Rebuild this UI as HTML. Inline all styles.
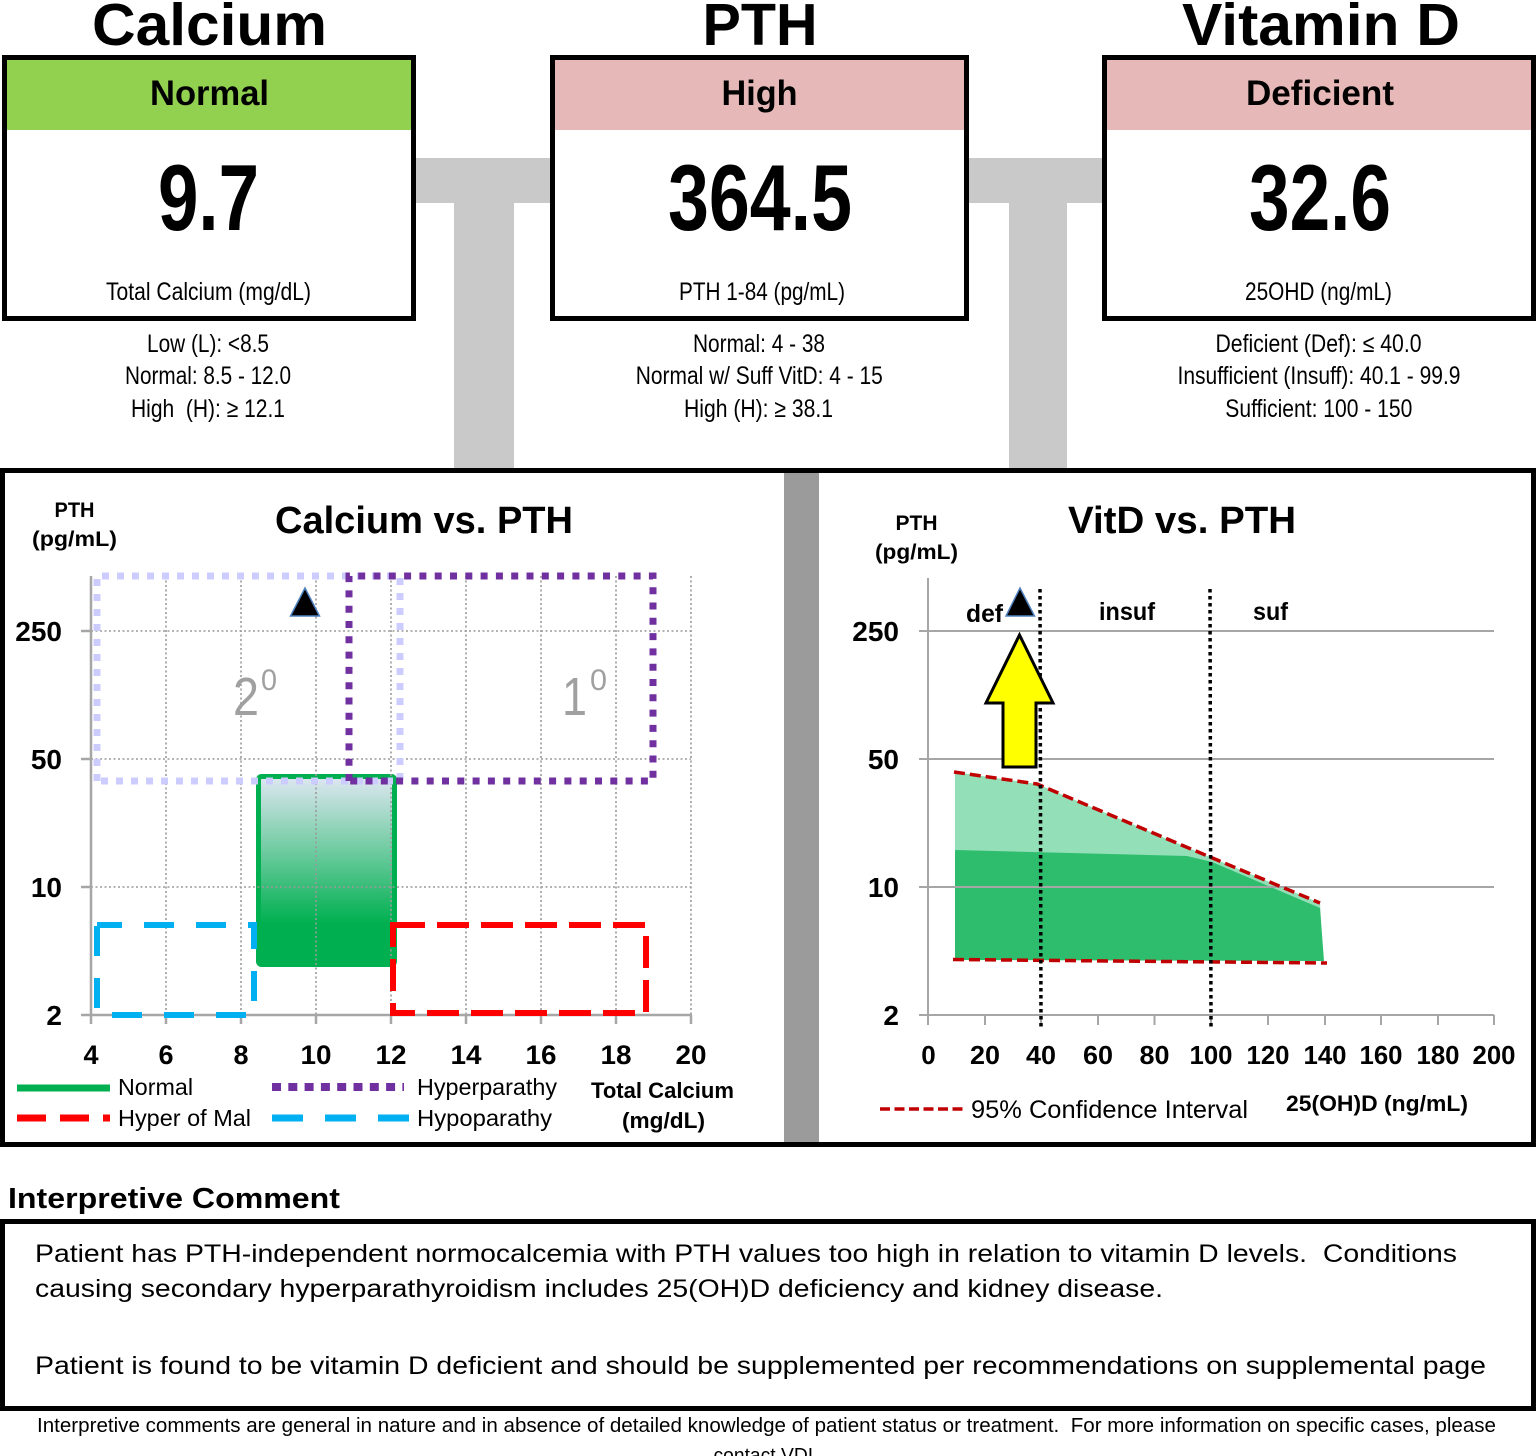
<!DOCTYPE html>
<html><head><meta charset="utf-8">
<style>html,body{margin:0;padding:0;background:#fff;}svg{display:block;}</style>
</head><body>
<svg width="1536" height="1456" viewBox="0 0 1536 1456" xmlns="http://www.w3.org/2000/svg" font-family="'Liberation Sans', Arial, sans-serif">
<defs>
<linearGradient id="gr" x1="0" y1="0" x2="0" y2="1">
<stop offset="0" stop-color="#dfe7f2"/>
<stop offset="0.78" stop-color="#00b050"/>
<stop offset="1" stop-color="#00b050"/>
</linearGradient>
</defs>
<rect width="1536" height="1456" fill="#fff"/>

<!-- gray connectors -->
<rect x="416" y="158" width="134" height="45" fill="#c9c9c9"/>
<rect x="454" y="203" width="60" height="266" fill="#c9c9c9"/>
<rect x="969" y="158" width="133" height="45" fill="#c9c9c9"/>
<rect x="1009" y="203" width="58" height="266" fill="#c9c9c9"/>

<!-- Titles -->
<g font-weight="bold" font-size="59" text-anchor="middle" fill="#000">
<text x="209.5" y="45" textLength="235" lengthAdjust="spacingAndGlyphs">Calcium</text>
<text x="760" y="45" textLength="115" lengthAdjust="spacingAndGlyphs">PTH</text>
<text x="1321" y="45" textLength="278" lengthAdjust="spacingAndGlyphs">Vitamin D</text>
</g>

<!-- Boxes -->
<rect x="7" y="60" width="404" height="70" fill="#92d050"/>
<rect x="4.5" y="57.5" width="409" height="261" fill="none" stroke="#000" stroke-width="5"/>
<rect x="555" y="60" width="409" height="70" fill="#e6b8b7"/>
<rect x="552.5" y="57.5" width="414" height="261" fill="none" stroke="#000" stroke-width="5"/>
<rect x="1107" y="60" width="424" height="70" fill="#e6b8b7"/>
<rect x="1104.5" y="57.5" width="429" height="261" fill="none" stroke="#000" stroke-width="5"/>

<g font-weight="bold" font-size="35" text-anchor="middle">
<text x="209.5" y="105" textLength="119" lengthAdjust="spacingAndGlyphs">Normal</text>
<text x="759.5" y="105" textLength="76" lengthAdjust="spacingAndGlyphs">High</text>
<text x="1320" y="105" textLength="148" lengthAdjust="spacingAndGlyphs">Deficient</text>
</g>
<g font-weight="bold" font-size="94" text-anchor="middle">
<text x="208.5" y="230" textLength="101" lengthAdjust="spacingAndGlyphs">9.7</text>
<text x="760" y="230" textLength="184" lengthAdjust="spacingAndGlyphs">364.5</text>
<text x="1320" y="230" textLength="142" lengthAdjust="spacingAndGlyphs">32.6</text>
</g>
<g font-size="25" text-anchor="middle">
<text x="208.5" y="300" textLength="205" lengthAdjust="spacingAndGlyphs">Total Calcium (mg/dL)</text>
<text x="762" y="300" textLength="166" lengthAdjust="spacingAndGlyphs">PTH 1-84 (pg/mL)</text>
<text x="1318.5" y="300" textLength="147" lengthAdjust="spacingAndGlyphs">25OHD (ng/mL)</text>

<text x="208" y="352" textLength="122" lengthAdjust="spacingAndGlyphs">Low (L): &lt;8.5</text>
<text x="208" y="384" textLength="166" lengthAdjust="spacingAndGlyphs">Normal: 8.5 - 12.0</text>
<text x="208" y="417" textLength="154" lengthAdjust="spacingAndGlyphs">High &#160;(H): ≥ 12.1</text>

<text x="759" y="352" textLength="132" lengthAdjust="spacingAndGlyphs">Normal: 4 - 38</text>
<text x="759.3" y="384" textLength="247" lengthAdjust="spacingAndGlyphs">Normal w/ Suff VitD: 4 - 15</text>
<text x="758.5" y="417" textLength="149" lengthAdjust="spacingAndGlyphs">High (H): ≥ 38.1</text>

<text x="1318.5" y="352" textLength="206" lengthAdjust="spacingAndGlyphs">Deficient (Def): ≤ 40.0</text>
<text x="1319" y="384" textLength="283" lengthAdjust="spacingAndGlyphs">Insufficient (Insuff): 40.1 - 99.9</text>
<text x="1318.8" y="417" textLength="187" lengthAdjust="spacingAndGlyphs">Sufficient: 100 - 150</text>
</g>

<!-- Chart panel -->
<rect x="784" y="471" width="35" height="672" fill="#9b9b9b"/>
<rect x="2.5" y="470.5" width="1531" height="674" fill="none" stroke="#000" stroke-width="5"/>

<!-- ===== LEFT CHART ===== -->
<rect x="258.5" y="776.5" width="136" height="188" rx="3" fill="url(#gr)" stroke="#00b050" stroke-width="5"/>

<g stroke="#9a9a9a" stroke-width="1.6" stroke-dasharray="2 2.5" fill="none">
<line x1="91" y1="631" x2="691" y2="631"/>
<line x1="91" y1="759" x2="691" y2="759"/>
<line x1="91" y1="887" x2="691" y2="887"/>
<line x1="166" y1="576" x2="166" y2="1015"/>
<line x1="241" y1="576" x2="241" y2="1015"/>
<line x1="316" y1="576" x2="316" y2="1015"/>
<line x1="391" y1="576" x2="391" y2="1015"/>
<line x1="466" y1="576" x2="466" y2="1015"/>
<line x1="541" y1="576" x2="541" y2="1015"/>
<line x1="616" y1="576" x2="616" y2="1015"/>
<line x1="691" y1="576" x2="691" y2="1015"/>
</g>
<g stroke="#a6a6a6" stroke-width="2.5" fill="none">
<line x1="91" y1="576" x2="91" y2="1016"/>
<line x1="81" y1="1015" x2="692" y2="1015"/>
<line x1="81" y1="631" x2="91" y2="631"/>
<line x1="81" y1="759" x2="91" y2="759"/>
<line x1="81" y1="887" x2="91" y2="887"/>
<line x1="91" y1="1015" x2="91" y2="1024"/>
<line x1="166" y1="1015" x2="166" y2="1024"/>
<line x1="241" y1="1015" x2="241" y2="1024"/>
<line x1="316" y1="1015" x2="316" y2="1024"/>
<line x1="391" y1="1015" x2="391" y2="1024"/>
<line x1="466" y1="1015" x2="466" y2="1024"/>
<line x1="541" y1="1015" x2="541" y2="1024"/>
<line x1="616" y1="1015" x2="616" y2="1024"/>
<line x1="691" y1="1015" x2="691" y2="1024"/>
</g>

<path d="M97,781 L97,576 L400,576 L400,781 Z" fill="none" stroke="#ccccff" stroke-width="7" stroke-dasharray="7 8"/>
<path d="M349,781 L349,576 L653,576 L653,781 Z" fill="none" stroke="#7030a0" stroke-width="7" stroke-dasharray="7 8.3"/>
<path d="M97,925 L254,925 L254,1015 L97,1015 Z" fill="none" stroke="#00b0f0" stroke-width="6" stroke-dasharray="30 22" stroke-dashoffset="5"/>
<path d="M393,925 L646,925 L646,1013 L393,1013 Z" fill="none" stroke="#ff0000" stroke-width="6" stroke-dasharray="32 12"/>

<g fill="#a0a0a0">
<text x="233" y="715" font-size="54" textLength="26" lengthAdjust="spacingAndGlyphs">2</text>
<text x="261" y="690" font-size="30" textLength="16" lengthAdjust="spacingAndGlyphs">0</text>
<text x="562" y="715" font-size="54" textLength="25" lengthAdjust="spacingAndGlyphs">1</text>
<text x="590" y="690" font-size="30" textLength="17" lengthAdjust="spacingAndGlyphs">0</text>
</g>

<polygon points="305,588 290.5,616 319.5,616" fill="#000" stroke="#4f81bd" stroke-width="1.5"/>

<g font-weight="bold" fill="#000">
<text x="62" y="641" font-size="28" text-anchor="end">250</text>
<text x="62" y="769" font-size="28" text-anchor="end">50</text>
<text x="62" y="897" font-size="28" text-anchor="end">10</text>
<text x="62" y="1025" font-size="28" text-anchor="end">2</text>
<g font-size="27" text-anchor="middle">
<text x="91" y="1064">4</text>
<text x="166" y="1064">6</text>
<text x="241" y="1064">8</text>
<text x="316" y="1064" textLength="31" lengthAdjust="spacingAndGlyphs">10</text>
<text x="391" y="1064" textLength="31" lengthAdjust="spacingAndGlyphs">12</text>
<text x="466" y="1064" textLength="31" lengthAdjust="spacingAndGlyphs">14</text>
<text x="541" y="1064" textLength="31" lengthAdjust="spacingAndGlyphs">16</text>
<text x="616" y="1064" textLength="31" lengthAdjust="spacingAndGlyphs">18</text>
<text x="691" y="1064" textLength="31" lengthAdjust="spacingAndGlyphs">20</text>
</g>
<text x="74.5" y="517" font-size="21" text-anchor="middle" textLength="40" lengthAdjust="spacingAndGlyphs">PTH</text>
<text x="74.5" y="546" font-size="21" text-anchor="middle" textLength="85" lengthAdjust="spacingAndGlyphs">(pg/mL)</text>
<text x="424" y="533" font-size="38" text-anchor="middle" textLength="298" lengthAdjust="spacingAndGlyphs">Calcium vs. PTH</text>
<text x="662.5" y="1098" font-size="22" text-anchor="middle" textLength="143" lengthAdjust="spacingAndGlyphs">Total Calcium</text>
<text x="663.5" y="1128" font-size="22" text-anchor="middle" textLength="83" lengthAdjust="spacingAndGlyphs">(mg/dL)</text>
</g>

<line x1="17" y1="1088" x2="110" y2="1088" stroke="#00b050" stroke-width="7"/>
<line x1="17" y1="1118" x2="110" y2="1118" stroke="#ff0000" stroke-width="7" stroke-dasharray="29 14"/>
<line x1="272" y1="1087" x2="404" y2="1087" stroke="#7030a0" stroke-width="8" stroke-dasharray="9 7.3"/>
<line x1="272" y1="1118" x2="410" y2="1118" stroke="#00b0f0" stroke-width="7" stroke-dasharray="31 22"/>
<g font-size="23" fill="#000">
<text x="118" y="1095" textLength="75" lengthAdjust="spacingAndGlyphs">Normal</text>
<text x="118" y="1126" textLength="133" lengthAdjust="spacingAndGlyphs">Hyper of Mal</text>
<text x="417" y="1095" textLength="140" lengthAdjust="spacingAndGlyphs">Hyperparathy</text>
<text x="417" y="1126" textLength="135" lengthAdjust="spacingAndGlyphs">Hypoparathy</text>
</g>

<!-- ===== RIGHT CHART ===== -->
<polygon points="955,772 1037,784 1210,857 1320,903 1323,960 955,960" fill="#93dfb7"/>
<polygon points="955,850 1187,856 1212,862 1320,908 1324,961 955,960" fill="#2dbd6d"/>

<g stroke="#a6a6a6" stroke-width="2" fill="none">
<line x1="919" y1="631" x2="1494" y2="631"/>
<line x1="919" y1="759" x2="1494" y2="759"/>
<line x1="919" y1="887" x2="1494" y2="887"/>
<line x1="919" y1="1015" x2="1494" y2="1015"/>
<line x1="928" y1="578" x2="928" y2="1016"/>
<line x1="928" y1="1015" x2="928" y2="1025"/>
<line x1="985" y1="1015" x2="985" y2="1025"/>
<line x1="1041" y1="1015" x2="1041" y2="1025"/>
<line x1="1098" y1="1015" x2="1098" y2="1025"/>
<line x1="1154.5" y1="1015" x2="1154.5" y2="1025"/>
<line x1="1211" y1="1015" x2="1211" y2="1025"/>
<line x1="1268" y1="1015" x2="1268" y2="1025"/>
<line x1="1325" y1="1015" x2="1325" y2="1025"/>
<line x1="1381" y1="1015" x2="1381" y2="1025"/>
<line x1="1438" y1="1015" x2="1438" y2="1025"/>
<line x1="1494" y1="1015" x2="1494" y2="1025"/>
</g>

<polyline points="954,772 1037,784 1210,857 1320,903" fill="none" stroke="#c00000" stroke-width="3.5" stroke-dasharray="11 5"/>
<line x1="953" y1="959.5" x2="1327" y2="963" stroke="#c00000" stroke-width="3.5" stroke-dasharray="11 5"/>

<line x1="1040" y1="589" x2="1041" y2="1030" stroke="#000" stroke-width="3.5" stroke-dasharray="3.5 3.5"/>
<line x1="1210" y1="589" x2="1211" y2="1030" stroke="#000" stroke-width="3.5" stroke-dasharray="3.5 3.5"/>

<polygon points="1019.5,635 1053,703 1036,703 1036,767 1003,767 1003,703 986,703" fill="#ffff00" stroke="#000" stroke-width="3" stroke-linejoin="miter"/>
<polygon points="1020,588 1006,616 1034.5,616" fill="#000" stroke="#4f81bd" stroke-width="1.5"/>

<g font-weight="bold" fill="#000">
<text x="966" y="622" font-size="25" textLength="37" lengthAdjust="spacingAndGlyphs">def</text>
<text x="1099" y="620" font-size="25" textLength="56" lengthAdjust="spacingAndGlyphs">insuf</text>
<text x="1253" y="620" font-size="25" textLength="35" lengthAdjust="spacingAndGlyphs">suf</text>
<text x="899" y="641" font-size="28" text-anchor="end">250</text>
<text x="899" y="769" font-size="28" text-anchor="end">50</text>
<text x="899" y="897" font-size="28" text-anchor="end">10</text>
<text x="899" y="1025" font-size="28" text-anchor="end">2</text>
<g font-size="26" text-anchor="middle">
<text x="928.5" y="1064">0</text>
<text x="985" y="1064" textLength="30" lengthAdjust="spacingAndGlyphs">20</text>
<text x="1041" y="1064" textLength="30" lengthAdjust="spacingAndGlyphs">40</text>
<text x="1098" y="1064" textLength="30" lengthAdjust="spacingAndGlyphs">60</text>
<text x="1154.5" y="1064" textLength="30" lengthAdjust="spacingAndGlyphs">80</text>
<text x="1211" y="1064" textLength="43" lengthAdjust="spacingAndGlyphs">100</text>
<text x="1268" y="1064" textLength="43" lengthAdjust="spacingAndGlyphs">120</text>
<text x="1325" y="1064" textLength="43" lengthAdjust="spacingAndGlyphs">140</text>
<text x="1381" y="1064" textLength="43" lengthAdjust="spacingAndGlyphs">160</text>
<text x="1438" y="1064" textLength="43" lengthAdjust="spacingAndGlyphs">180</text>
<text x="1494" y="1064" textLength="43" lengthAdjust="spacingAndGlyphs">200</text>
</g>
<text x="916.5" y="530" font-size="21" text-anchor="middle" textLength="42" lengthAdjust="spacingAndGlyphs">PTH</text>
<text x="916.5" y="559" font-size="21" text-anchor="middle" textLength="83" lengthAdjust="spacingAndGlyphs">(pg/mL)</text>
<text x="1182" y="533" font-size="38" text-anchor="middle" textLength="228" lengthAdjust="spacingAndGlyphs">VitD vs. PTH</text>
<text x="1286" y="1111" font-size="22" textLength="182" lengthAdjust="spacingAndGlyphs">25(OH)D (ng/mL)</text>
</g>
<line x1="880" y1="1109" x2="967" y2="1109" stroke="#c00000" stroke-width="3.5" stroke-dasharray="10 4.5"/>
<text x="971" y="1118" font-size="25" textLength="277" lengthAdjust="spacingAndGlyphs">95% Confidence Interval</text>

<!-- ===== Bottom ===== -->
<text x="8" y="1208" font-size="29" font-weight="bold" textLength="332" lengthAdjust="spacingAndGlyphs">Interpretive Comment</text>
<rect x="2.5" y="1221.5" width="1531" height="187" fill="none" stroke="#000" stroke-width="5"/>
<g font-size="25" fill="#000">
<text x="35" y="1262" textLength="1422" lengthAdjust="spacingAndGlyphs">Patient has PTH-independent normocalcemia with PTH values too high in relation to vitamin D levels.&#160; Conditions</text>
<text x="35" y="1297" textLength="1128" lengthAdjust="spacingAndGlyphs">causing secondary hyperparathyroidism includes 25(OH)D deficiency and kidney disease.</text>
<text x="35" y="1374" textLength="1451" lengthAdjust="spacingAndGlyphs">Patient is found to be vitamin D deficient and should be supplemented per recommendations on supplemental page</text>
</g>
<g font-size="20" fill="#000">
<text x="37" y="1432" textLength="1459" lengthAdjust="spacingAndGlyphs">Interpretive comments are general in nature and in absence of detailed knowledge of patient status or treatment.&#160; For more information on specific cases, please</text>
<text x="766" y="1462" text-anchor="middle" textLength="105" lengthAdjust="spacingAndGlyphs">contact VDI.</text>
</g>
</svg>
</body></html>
